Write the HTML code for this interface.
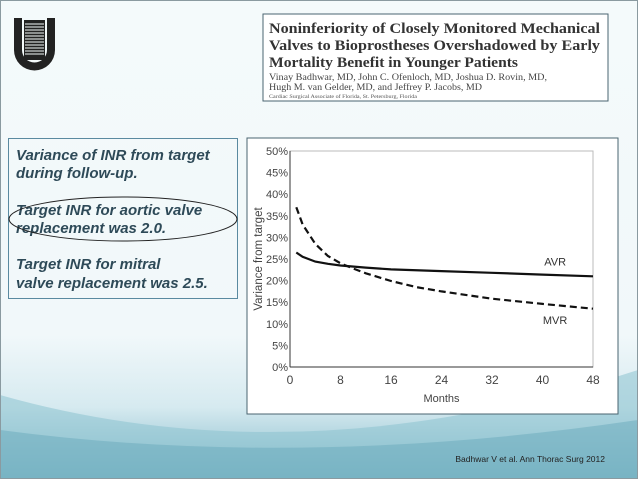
<!DOCTYPE html>
<html><head><meta charset="utf-8"><style>
body{margin:0;width:638px;height:479px;overflow:hidden;font-family:"Liberation Sans",sans-serif;}
#slide{position:relative;width:638px;height:479px;background:linear-gradient(180deg,#f4fafb 0%,#f1f8fa 70%,#d6eaf0 85%,#7fb8c8 100%);}
</style></head><body>
<div id="slide">
<svg width="638" height="479" style="position:absolute;left:0;top:0">
 <path d="M0 395 Q300 480 638 370 L638 479 L0 479Z" fill="#8cc2d0" opacity="0.55"/>
 <path d="M0 430 Q300 470 638 420 L638 479 L0 479Z" fill="#6aaabb" opacity="0.5"/>
 <rect x="0.5" y="0.5" width="637" height="478" fill="none" stroke="#8a9aa0"/>
 <g>
  <path d="M14 18 L14 50 A20.5 20.5 0 0 0 55 50 L55 18 L47 18 L47 50 A12.5 12.5 0 0 1 22 50 L22 18Z" fill="#222"/>
  <rect x="24" y="20" width="21" height="40" fill="#222"/>
  <g stroke="#f4fafb" stroke-width="1">
   <line x1="25" y1="24" x2="44" y2="24"/><line x1="25" y1="27" x2="44" y2="27"/><line x1="25" y1="30" x2="44" y2="30"/><line x1="25" y1="33" x2="44" y2="33"/><line x1="25" y1="36" x2="44" y2="36"/><line x1="25" y1="39" x2="44" y2="39"/><line x1="25" y1="42" x2="44" y2="42"/><line x1="25" y1="45" x2="44" y2="45"/><line x1="25" y1="48" x2="44" y2="48"/><line x1="25" y1="51" x2="44" y2="51"/><line x1="25" y1="54" x2="44" y2="54"/>
  </g>
 </g>
 <g>
  <rect x="263" y="14" width="345" height="87" fill="#fff" stroke="#4a6470" stroke-width="1"/>
  <text x="269" y="33" font-family="Liberation Serif" font-size="15" font-weight="bold" fill="#333" textLength="331" lengthAdjust="spacingAndGlyphs">Noninferiority of Closely Monitored Mechanical</text>
  <text x="269" y="50" font-family="Liberation Serif" font-size="15" font-weight="bold" fill="#333" textLength="331" lengthAdjust="spacingAndGlyphs">Valves to Bioprostheses Overshadowed by Early</text>
  <text x="269" y="67" font-family="Liberation Serif" font-size="15" font-weight="bold" fill="#333" textLength="249" lengthAdjust="spacingAndGlyphs">Mortality Benefit in Younger Patients</text>
  <text x="269" y="80" font-family="Liberation Serif" font-size="9.3" fill="#444" textLength="278" lengthAdjust="spacingAndGlyphs">Vinay Badhwar, MD, John C. Ofenloch, MD, Joshua D. Rovin, MD,</text>
  <text x="269" y="90" font-family="Liberation Serif" font-size="9.3" fill="#444" textLength="213" lengthAdjust="spacingAndGlyphs">Hugh M. van Gelder, MD, and Jeffrey P. Jacobs, MD</text>
  <text x="269" y="98" font-family="Liberation Serif" font-size="5" fill="#555" textLength="148" lengthAdjust="spacingAndGlyphs">Cardiac Surgical Associate of Florida, St. Petersburg, Florida</text>
 </g>
 <g>
  <rect x="8.5" y="138.5" width="229" height="160" fill="none" stroke="#5a8aa0"/>
  <g font-size="15" font-weight="bold" font-style="italic" fill="#2e4a58">
   <text x="16" y="160">Variance of INR from target</text>
   <text x="16" y="178">during follow-up.</text>
   <text x="16" y="215">Target INR for aortic valve</text>
   <text x="16" y="233">replacement was 2.0.</text>
   <text x="16" y="269">Target INR for mitral</text>
   <text x="16" y="288">valve replacement was 2.5.</text>
  </g>
  <ellipse cx="123" cy="219" rx="114" ry="22" fill="none" stroke="#222" stroke-width="1"/>
 </g>
 <text x="605" y="462" text-anchor="end" font-size="8.5" fill="#222">Badhwar V et al. Ann Thorac Surg 2012</text>
 <rect x="247" y="138" width="371" height="276" fill="#fff" stroke="#4a6470"/>
 <g id="chart"></g>
</svg>
</div>
<script>
const xTicks=[0,8,16,24,32,40,48];
const yTicks=[0,5,10,15,20,25,30,35,40,45,50];
const avrMonths=[1,2,4,6,8,12,16,24,32,40,48];
const avrValues=[26.5,25.5,24.4,23.9,23.5,23.0,22.6,22.2,21.8,21.4,21.0];
const mvrMonths=[1,2,4,6,8,10,12,16,20,24,32,40,48];
const mvrValues=[37,33,28.5,25.7,24,22.8,21.7,19.9,18.5,17.5,15.8,14.6,13.5];
const L=290,R=593,T=151,B=367;
const sx=m=>L+(m/48)*(R-L);
const sy=v=>B-(v/50)*(B-T);
const g=document.getElementById('chart');
const NS='http://www.w3.org/2000/svg';
function mk(t,a){const e=document.createElementNS(NS,t);for(const k in a)e.setAttribute(k,a[k]);g.appendChild(e);return e;}
const pa=mk('rect',{x:L,y:T,width:R-L,height:B-T,fill:'none',stroke:'#bbb'});


const yax=mk('line',{x1:L,y1:T,x2:L,y2:B,stroke:'#333'});


const xax=mk('line',{x1:L,y1:B,x2:R,y2:B,stroke:'#333'});


yTicks.forEach(v=>{const t=mk('text',{x:L-2,y:sy(v)+4,'text-anchor':'end','font-size':'11',fill:'#444'});t.textContent=v+'%';

});
xTicks.forEach(m=>{const t=mk('text',{x:sx(m),y:B+17,'text-anchor':'middle','font-size':'12',fill:'#444'});t.textContent=m;

});
const xt=mk('text',{x:(L+R)/2,y:B+35,'text-anchor':'middle','font-size':'11',fill:'#444'});xt.textContent='Months';


const yt=mk('text',{x:0,y:0,transform:'translate(262,'+((T+B)/2)+') rotate(-90)','text-anchor':'middle','font-size':'11.5',fill:'#444'});yt.textContent='Variance from target';


function path(ms,vs){let d='';ms.forEach((m,i)=>{d+=(i?'L':'M')+sx(m).toFixed(1)+' '+sy(vs[i]).toFixed(1);});return d;}
const a=mk('path',{d:path(avrMonths,avrValues),fill:'none',stroke:'#111','stroke-width':'2.2'});


const mv=mk('path',{d:path(mvrMonths,mvrValues),fill:'none',stroke:'#111','stroke-width':'2.2','stroke-dasharray':'7 4'});


const la=mk('text',{x:sx(42),y:sy(avrValues[9])-9,'text-anchor':'middle','font-size':'11',fill:'#333'});la.textContent='AVR';


const lm=mk('text',{x:sx(42),y:sy(mvrValues[11])+20,'text-anchor':'middle','font-size':'11',fill:'#333'});lm.textContent='MVR';


</script>
</body></html>
